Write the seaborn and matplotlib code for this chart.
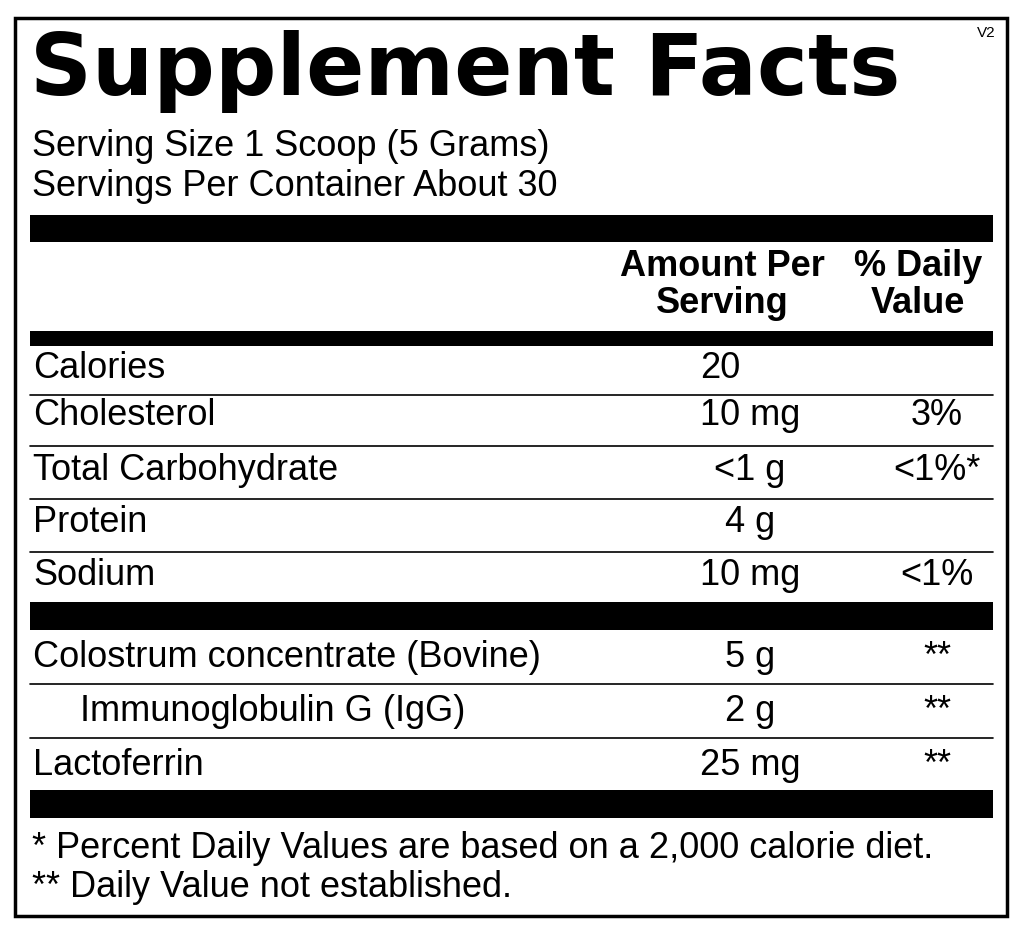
import matplotlib
matplotlib.use("Agg")
import matplotlib.pyplot as plt
import seaborn as sns
from matplotlib.patches import Rectangle

sns.set_theme(style="white")
plt.rcParams['font.family'] = ['Liberation Sans Narrow', 'Liberation Sans', 'DejaVu Sans']
plt.rcParams['text.color'] = 'black'

title = "Supplement Facts"
version = "V2"
serving_lines = ["Serving Size 1 Scoop (5 Grams)", "Servings Per Container About 30"]
col_headers = [("Amount Per", "Serving"), ("% Daily", "Value")]
group1_names = ["Calories", "Cholesterol", "Total Carbohydrate", "Protein", "Sodium"]
group1_amounts = ["20", "10 mg", "<1 g", "4 g", "10 mg"]
group1_dv = ["", "3%", "<1%*", "", "<1%"]
group2_names = ["Colostrum concentrate (Bovine)", "Immunoglobulin G (IgG)", "Lactoferrin"]
group2_indent = [False, True, False]
group2_amounts = ["5 g", "2 g", "25 mg"]
group2_dv = ["**", "**", "**"]
footnotes = ["* Percent Daily Values are based on a 2,000 calorie diet.",
             "** Daily Value not established."]

fig = plt.figure(figsize=(10.24, 9.3), dpi=100)
ax = fig.add_axes([0, 0, 1, 1])
ax.set_xlim(0, 1024)
ax.set_ylim(930, 0)
ax.axis("off")

ax.add_patch(Rectangle((15, 18), 992, 898, fill=False, lw=2.5, ec="black"))

def bar(y0, y1):
    ax.add_patch(Rectangle((30, y0), 963, y1 - y0, color="black", lw=0))

def thin(y):
    ax.plot([30, 993], [y, y], color="black", lw=1.2)

fs = 26
ax.text(30, 95, title, fontsize=62, fontweight="heavy", family=["DejaVu Sans"],
        va="baseline", ha="left", color="black")
ax.text(986, 33, version, fontsize=11, family=["Liberation Sans", "DejaVu Sans"], ha="center", va="center")
for i, s in enumerate(serving_lines):
    ax.text(32, 147 + 40 * i, s, fontsize=fs, va="center", ha="left")

bar(215, 242)
for (l1, l2), xc in zip(col_headers, [722, 918]):
    ax.text(xc, 266, l1, fontsize=fs, fontweight="bold", ha="center", va="center")
    ax.text(xc, 303, l2, fontsize=fs, fontweight="bold", ha="center", va="center")
bar(331, 346)

ys1 = [368, 415, 470, 522, 575]
for i, (n, a, d) in enumerate(zip(group1_names, group1_amounts, group1_dv)):
    y = ys1[i]
    ax.text(33, y, n, fontsize=fs, va="center", ha="left")
    ax.text(720 if i == 0 else 750, y, a, fontsize=fs, va="center", ha="center")
    ax.text(937, y, d, fontsize=fs, va="center", ha="center")
    if i < len(group1_names) - 1:
        thin((ys1[i] + ys1[i + 1]) / 2 + 3)
bar(602, 630)

ys2 = [657, 711, 765]
for i, (n, ind, a, d) in enumerate(zip(group2_names, group2_indent, group2_amounts, group2_dv)):
    y = ys2[i]
    ax.text(80 if ind else 33, y, n, fontsize=fs, va="center", ha="left")
    ax.text(750, y, a, fontsize=fs, va="center", ha="center")
    ax.text(937, y, d, fontsize=fs, va="center", ha="center")
    if i < len(group2_names) - 1:
        thin((ys2[i] + ys2[i + 1]) / 2)
bar(790, 818)

for i, s in enumerate(footnotes):
    ax.text(32, 848 + 39 * i, s, fontsize=fs, va="center", ha="left")

fig.savefig("out.png", dpi=100, facecolor="white")
